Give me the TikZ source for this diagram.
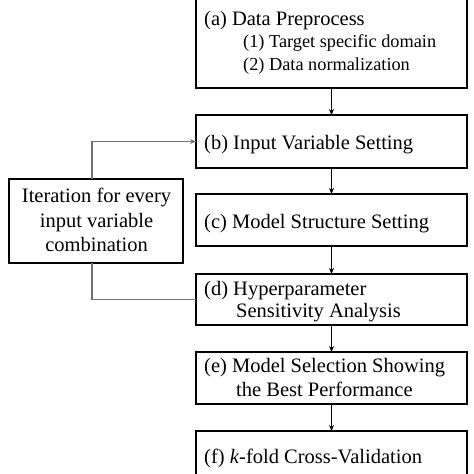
\documentclass[tikz,border=0pt]{standalone}
\usepackage{fontspec}
\setmainfont{Liberation Serif}
\usetikzlibrary{arrows.meta}
\begin{document}
\begin{tikzpicture}[x=1pt,y=-1pt,
  box/.style={draw=black, line width=2pt, inner sep=0pt, outer sep=0pt, minimum width=271pt},
  lbl/.style={anchor=base west, inner sep=0pt, font=\fontsize{20.5}{22}\selectfont},
  slbl/.style={anchor=base west, inner sep=0pt, font=\fontsize{18.3}{22}\selectfont},
  clbl/.style={anchor=base, inner sep=0pt, font=\fontsize{20.5}{22}\selectfont},
  flow/.style={draw=black, line width=0.9pt, -{Stealth[length=6pt,width=5pt]}},
  loop/.style={draw=black!55, line width=1.1pt},
]
\useasboundingbox (0,0) rectangle (474,474);
\clip (0,0) rectangle (474,474);
\fill[white] (0,0) rectangle (474,474);
% boxes
\node[box, minimum height=92pt] (a) at (331.5,42) {};
\node[box, minimum height=53pt] (b) at (331.5,141.5) {};
\node[box, minimum height=52pt] (c) at (331.5,220) {};
\node[box, minimum height=51pt] (d) at (331.5,299.5) {};
\node[box, minimum height=52pt] (e) at (331.5,378) {};
\node[box, minimum height=60pt] (f) at (331.5,461) {};
\node[box, minimum width=174pt, minimum height=84pt] (it) at (96,221) {};
% texts
\node[lbl] (ta) at (204,25) {(a) Data Preprocess};
\node[slbl] (ta1) at (243,47.5) {(1) Target specific domain};
\node[slbl] (ta2) at (243,70) {(2) Data normalization};
\node[lbl] (tb) at (204,149.5) {(b) Input Variable Setting};
\node[lbl] (tc) at (204,228) {(c) Model Structure Setting};
\node[lbl] (td1) at (204,295) {(d) Hyperparameter};
\node[lbl] (td2) at (236,317.3) {Sensitivity Analysis};
\node[lbl] (te1) at (204,372.7) {(e) Model Selection Showing};
\node[lbl] (te2) at (236,396.7) {the Best Performance};
\node[lbl] (tf) at (204,463) {(f) \textit{k}-fold Cross-Validation};
\node[clbl] (ti1) at (96.5,202.5) {Iteration for every};
\node[clbl] (ti2) at (96.5,227) {input variable};
\node[clbl] (ti3) at (96.5,251.5) {combination};
% flow arrows
\draw[flow] (a.south) -- (b.north);
\draw[flow] (b.south) -- (c.north);
\draw[flow] (c.south) -- (d.north);
\draw[flow] (d.south) -- (e.north);
\draw[flow] (e.south) -- (f.north);
% loop
\coordinate (lt) at (92,179);
\coordinate (lb) at (92,263);
\draw[loop] (lt) |- (b.west);
\draw[loop, -{Stealth[length=6pt,width=5pt]}] (lt |- b.west) ++(90,0) -- (b.west);
\draw[loop] (d.west) -| (lb);
\end{tikzpicture}
\end{document}
